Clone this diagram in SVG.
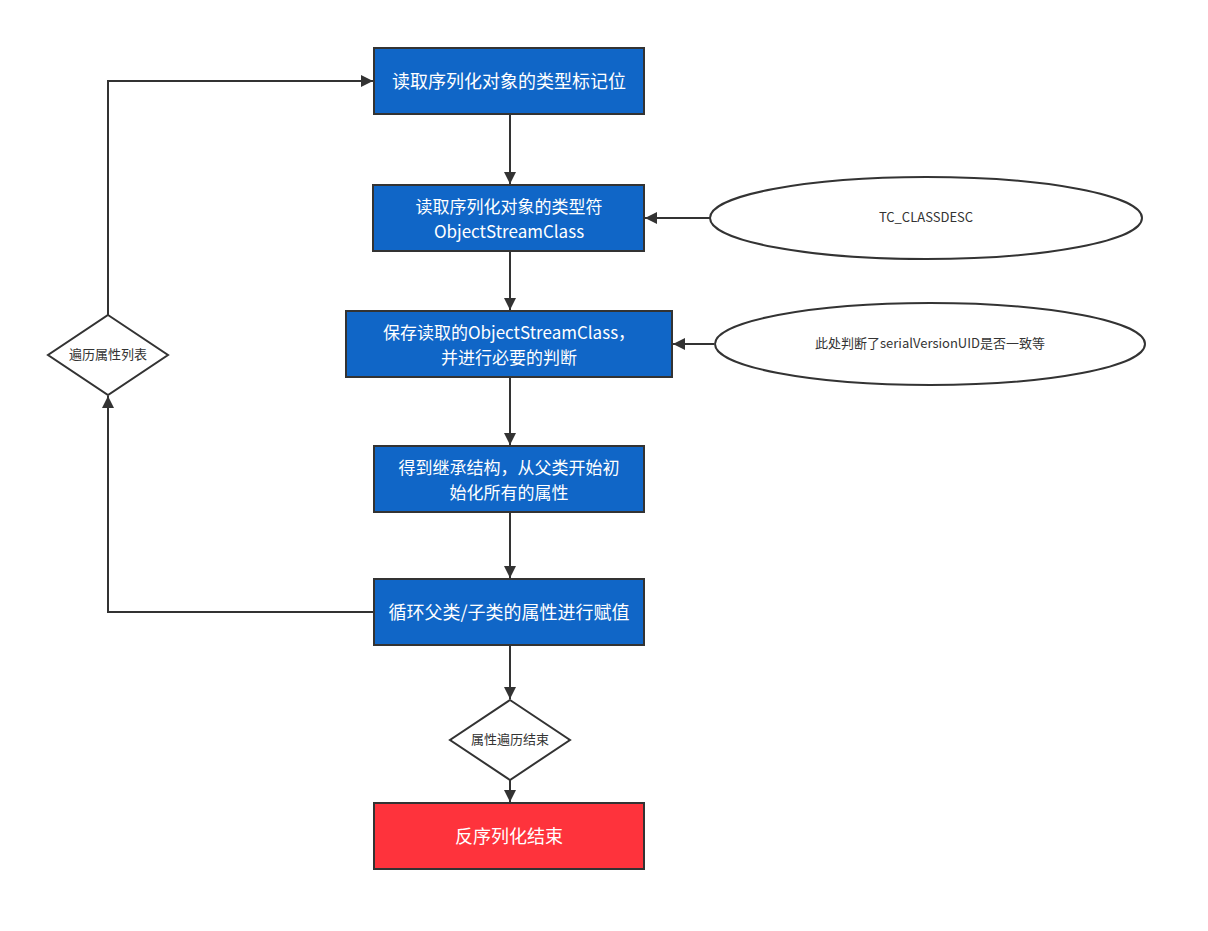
<svg xmlns="http://www.w3.org/2000/svg" width="1208" height="931" viewBox="0 0 1208 931">
<style>
.box{fill:#1066c7;stroke:#333;stroke-width:2}
.red{fill:#fe333c;stroke:#333;stroke-width:2}
.shape{fill:#fff;stroke:#333;stroke-width:2}
.bt{font-family:"Noto Sans CJK SC","Liberation Sans",sans-serif;font-size:18px;fill:#fff;text-anchor:middle}
.bt2{font-family:"Noto Sans CJK SC","Liberation Sans",sans-serif;font-size:17px;fill:#fff;text-anchor:middle}
.st{font-family:"Noto Sans CJK SC","Liberation Sans",sans-serif;font-size:13px;fill:#333;text-anchor:middle}
.ln{fill:none;stroke:#333;stroke-width:2;marker-end:url(#ah)}
</style>
<defs>
<marker id="ah" viewBox="0 0 10 10" refX="10" refY="5" markerWidth="6" markerHeight="6" orient="auto" markerUnits="strokeWidth">
<path d="M0,0 L10,5 L0,10 z" fill="#333"/>
</marker>
</defs>
<rect width="1208" height="931" fill="#fff"/>
<g id="connectors">
<path class="ln" d="M510,114 V184"/>
<path class="ln" d="M510,251 V310"/>
<path class="ln" d="M510,377 V445"/>
<path class="ln" d="M510,512 V578"/>
<path class="ln" d="M510,645 V699"/>
<path class="ln" d="M510,780 V802"/>
<path class="ln" d="M710,218 H645"/>
<path class="ln" d="M714,344 H673"/>
<path class="ln" d="M374,612 H108 V396"/>
<path class="ln" d="M108,315 V81 H373"/>
</g>
<g id="n1"><rect class="box" x="374" y="48" width="270" height="66"/><text class="bt" x="509" y="88">读取序列化对象的类型标记位</text></g>
<g id="n2"><rect class="box" x="373" y="185" width="271" height="66"/><text class="bt2" x="509" y="213">读取序列化对象的类型符</text><text class="bt2" x="509" y="238">ObjectStreamClass</text></g>
<g id="n3"><rect class="box" x="346" y="311" width="326" height="66"/><text class="bt2" x="509" y="339">保存读取的ObjectStreamClass，</text><text class="bt2" x="509" y="364">并进行必要的判断</text></g>
<g id="n4"><rect class="box" x="374" y="446" width="270" height="66"/><text class="bt2" x="509" y="474">得到继承结构，从父类开始初</text><text class="bt2" x="509" y="499">始化所有的属性</text></g>
<g id="n5"><rect class="box" x="374" y="579" width="270" height="66"/><text class="bt" x="509" y="619">循环父类/子类的属性进行赋值</text></g>
<g id="n6"><rect class="red" x="374" y="803" width="270" height="66"/><text class="bt" x="509" y="843">反序列化结束</text></g>
<g id="e1"><ellipse class="shape" cx="926" cy="218" rx="216" ry="41"/><text class="st" x="926" y="222">TC_CLASSDESC</text></g>
<g id="e2"><ellipse class="shape" cx="930" cy="344" rx="215" ry="41"/><text class="st" x="930" y="348">此处判断了serialVersionUID是否一致等</text></g>
<g id="d1"><polygon class="shape" points="108,315 168,355 108,395 48,355"/><text class="st" x="108" y="359">遍历属性列表</text></g>
<g id="d2"><polygon class="shape" points="510,700 570,740 510,780 450,740"/><text class="st" x="510" y="744">属性遍历结束</text></g>
</svg>
